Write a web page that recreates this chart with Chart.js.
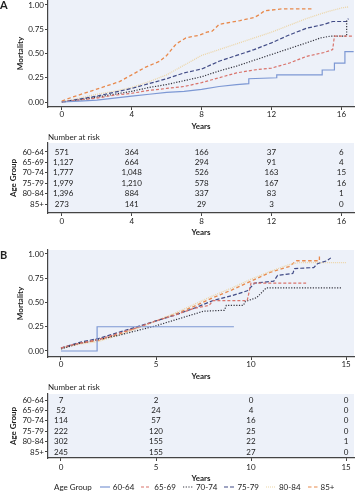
<!DOCTYPE html>
<html><head><meta charset="utf-8">
<script src="https://cdn.jsdelivr.net/npm/chart.js@4.4.1/dist/chart.umd.min.js"></script>
<style>
html,body{margin:0;padding:0;background:#fff;}
body{width:355px;height:500px;position:relative;overflow:hidden;font-family:Lato,"Open Sans",sans-serif;color:#222;}
canvas{position:absolute;left:0;}
.txt{position:absolute;font-size:8px;line-height:10px;white-space:nowrap;}
.panel{position:absolute;font-weight:bold;font-size:11px;line-height:12px;}
#legend{position:absolute;top:482px;left:54px;font-size:8px;line-height:10px;display:flex;align-items:center;white-space:nowrap;}
#legend svg{display:block;}
</style></head>
<body>
<canvas id="cA" width="355" height="131" style="top:0px"></canvas>
<canvas id="tA" width="355" height="107" style="top:131px"></canvas>
<canvas id="cB" width="355" height="133" style="top:248px"></canvas>
<canvas id="tB" width="355" height="102" style="top:381px"></canvas>
<div class="panel" style="left:0px;top:-1px">A</div>
<div class="panel" style="left:0px;top:249px">B</div>
<div class="txt" style="left:48px;top:132px">Number at risk</div>
<div class="txt" style="left:48px;top:382px">Number at risk</div>
<div id="legend"></div>
<script>
// ---------- data ----------
const groups = ['60-64','65-69','70-74','75-79','80-84','85+'];

// Panel A: cumulative mortality [years, mortality]
const A_6064 = [[0,0],[1,0.01],[2,0.02],[3,0.04],[4,0.06],[5,0.08],[6,0.10],[7,0.11],[8,0.13],[9,0.16],[10,0.18],[10.7,0.19],[10.7,0.24],[12.3,0.25],[12.3,0.28],[14.9,0.28],[14.9,0.33],[15.6,0.33],[15.6,0.40],[16.2,0.40],[16.2,0.52],[16.7,0.52]];
const A_6569 = [[0,0],[1,0.02],[2,0.04],[3,0.07],[4,0.09],[5,0.12],[6,0.14],[7,0.16],[8,0.20],[9,0.25],[10,0.30],[11,0.33],[12,0.35],[13,0.40],[14,0.47],[15,0.51],[15.5,0.54],[15.6,0.68],[16.7,0.68]];
const A_7074 = [[0,0],[1,0.02],[2,0.05],[3,0.08],[4,0.11],[5,0.15],[6,0.18],[7,0.22],[8,0.26],[9,0.32],[10,0.37],[11,0.43],[12,0.49],[13,0.55],[14,0.61],[14.8,0.66],[15.4,0.68],[16.3,0.68],[16.3,0.84]];
const A_7579 = [[0,0],[1,0.03],[2,0.06],[3,0.10],[4,0.14],[5,0.19],[6,0.24],[7,0.30],[8,0.34],[9,0.42],[10,0.48],[11,0.54],[12,0.61],[13,0.69],[14,0.76],[15,0.80],[15.5,0.83],[16.3,0.83],[16.4,0.86]];
const A_8084 = [[0,0],[1,0.04],[2,0.08],[3,0.11],[4,0.15],[5,0.21],[6,0.28],[7,0.38],[8,0.48],[9,0.54],[10,0.60],[11,0.66],[12,0.72],[13,0.79],[14,0.86],[15,0.92],[16,0.97],[16.4,0.98]];
const A_85 = [[0,0.01],[0.6,0.05],[1.8,0.12],[3.3,0.21],[4,0.28],[4.8,0.36],[5.6,0.42],[6.0,0.48],[6.55,0.60],[7.1,0.66],[7.9,0.69],[8.3,0.72],[8.6,0.73],[9.0,0.80],[10.2,0.84],[11.0,0.87],[11.3,0.90],[11.6,0.94],[12.6,0.96],[14.3,0.96]];
const A_xTicks = [0,4,8,12,16];
const A_yTicks = [0,0.25,0.5,0.75,1];
const A_riskTimes = [0,4,8,12,16];
const A_risk_6064 = [571,364,166,37,6];
const A_risk_6569 = [1127,664,294,91,4];
const A_risk_7074 = [1777,1048,526,163,15];
const A_risk_7579 = [1979,1210,578,167,16];
const A_risk_8084 = [1396,884,337,83,1];
const A_risk_85 = [273,141,29,3,0];

// Panel B
const B_6064 = [[0,0],[1.9,0],[1.9,0.25],[9.1,0.25]];
const B_6569 = [[0,0.03],[0.5,0.06],[1,0.08],[2,0.12],[3,0.18],[4,0.24],[5,0.31],[6,0.37],[7,0.44],[7.8,0.47],[8.0,0.52],[9.8,0.52],[10.0,0.70],[12.9,0.70]];
const B_7074 = [[0,0.02],[1,0.08],[2,0.12],[3,0.16],[4,0.21],[5,0.26],[6,0.32],[7,0.38],[7.5,0.41],[8.6,0.42],[8.7,0.47],[9.6,0.47],[9.7,0.51],[10.3,0.55],[10.8,0.65],[14.8,0.65]];
const B_7579 = [[0,0.03],[1,0.09],[2,0.13],[3,0.19],[4,0.25],[5,0.31],[6,0.37],[7,0.44],[8,0.52],[9,0.57],[9.8,0.62],[10.2,0.70],[11.2,0.72],[11.4,0.78],[12.2,0.80],[12.3,0.85],[13.3,0.86],[13.5,0.90],[14.0,0.93],[14.2,0.96]];
const B_8084 = [[0,0.03],[1,0.07],[2,0.10],[3,0.16],[4,0.23],[5,0.31],[6,0.39],[7,0.48],[8,0.57],[9,0.65],[10,0.74],[11,0.82],[12,0.89],[12.5,0.91],[15.0,0.91]];
const B_85 = [[0,0.03],[1,0.08],[2,0.11],[3,0.17],[4,0.24],[5,0.31],[6,0.38],[7,0.46],[8,0.55],[9,0.63],[10,0.72],[11,0.81],[12,0.87],[12.4,0.93],[13.6,0.93],[13.6,0.99]];
const B_xTicks = [0,5,10,15];
const B_yTicks = [0,0.25,0.5,0.75,1];
const B_riskTimes = [0,5,10,15];
const B_risk_6064 = [7,2,0,0];
const B_risk_6569 = [52,24,4,0];
const B_risk_7074 = [114,57,16,0];
const B_risk_7579 = [222,120,25,0];
const B_risk_8084 = [302,155,22,1];
const B_risk_85 = [245,155,27,0];

// ---------- styles ----------
const FONT = 'Lato, "Open Sans", sans-serif';
const TXT = '#222';
const AXIS = '#444';
const PLOT_BG = '#edf1f9';
const colors = ['#7d98d4','#d9736b','#34343f','#414b86','#ecd5a6','#e8894c'];
const dashes = [[],[3,2],[1.2,1.5],[4,2],[1,1],[3.5,2.5]];
const widths = [1.2,1.2,1.2,1.2,1.3,1.3];

const bgPlugin = {id:'bg', beforeDraw(chart){
  const {ctx, chartArea:a} = chart;
  ctx.save(); ctx.fillStyle = PLOT_BG;
  ctx.fillRect(a.left, a.top, a.right-a.left, a.bottom-a.top);
  ctx.restore();
}};

const riskText = {id:'riskText', afterDatasetsDraw(chart){
  const {ctx, chartArea:a} = chart;
  ctx.save();
  ctx.font = '8px ' + FONT; ctx.fillStyle = TXT;
  ctx.textBaseline = 'middle'; ctx.textAlign = 'left';
  chart.data.datasets.forEach((ds, di) => {
    chart.getDatasetMeta(di).data.forEach((el, k) => {
      const s = ds.data[k].n.toLocaleString('en-US');
      const w = ctx.measureText(s).width;
      const x = Math.max(el.x - w/2, a.left + 5);
      ctx.fillText(s, x, el.y);
    });
  });
  ctx.restore();
}};

function xAxis(min, max, ticks, h, tickPad, titlePadB){
  return {type:'linear', min, max,
    afterBuildTicks: s => { s.ticks = ticks.map(v => ({value:v})); },
    afterFit: s => { s.height = h; s.paddingLeft = 0; s.paddingRight = 0; },
    grid:{display:true, drawOnChartArea:false, drawTicks:true, tickLength:3, color:AXIS},
    border:{display:true, color:AXIS, width:1.2},
    ticks:{padding:tickPad, color:TXT, font:{size:8, family:FONT}, maxRotation:0, autoSkip:false},
    title:{display:true, text:'Years', color:TXT, font:{size:8, weight:'bold', family:FONT}, padding:{top:0, bottom:titlePadB}}
  };
}
function yAxis(opts){
  return Object.assign({type:'linear',
    afterFit: s => { s.width = 48; s.paddingTop = 0; s.paddingBottom = 0; },
    grid:{display:true, drawOnChartArea:false, drawTicks:true, tickLength:3, color:AXIS},
    border:{display:true, color:AXIS, width:1.2},
  }, opts);
}

function curveChart(id, series, xMin, xMax, xTicks, yMin, yMax, yTicks, padTop, xH){
  return new Chart(document.getElementById(id), {
    type:'line',
    data:{datasets: series.map((s,i) => ({
      label: groups[i], data: s.map(([x,y]) => ({x,y})),
      borderColor: colors[i], borderDash: dashes[i], borderWidth: widths[i],
      pointRadius:0, tension:0, fill:false
    }))},
    options:{responsive:false, animation:false, devicePixelRatio:1,
      layout:{padding:{top:padTop, right:1, left:0, bottom:0}, autoPadding:false},
      plugins:{legend:{display:false}, tooltip:{enabled:false}},
      scales:{
        x: xAxis(xMin, xMax, xTicks, xH, 0, 0),
        y: yAxis({min:yMin, max:yMax,
          afterBuildTicks: s => { s.ticks = yTicks.map(v => ({value:v})); },
          ticks:{padding:1, color:TXT, font:{size:8, family:FONT}, autoSkip:false, callback: v => Number(v).toFixed(2)},
          title:{display:true, text:'Mortality', color:TXT, font:{size:8, weight:'bold', family:FONT}, padding:{top:15.2, bottom:0}}
        })
      }
    },
    plugins:[bgPlugin]
  });
}

function tableChart(id, times, risks, xMin, xMax, xTicks, yMin, yMax, padTop, xH, tickPad, titlePadB){
  const pts = [];
  risks.forEach((row, gi) => row.forEach((n, j) => pts.push({x: times[j], y: gi, n})));
  return new Chart(document.getElementById(id), {
    type:'scatter',
    data:{datasets:[{data: pts, pointRadius:0, showLine:false}]},
    options:{responsive:false, animation:false, devicePixelRatio:1,
      layout:{padding:{top:padTop, right:1, left:0, bottom:0}, autoPadding:false},
      plugins:{legend:{display:false}, tooltip:{enabled:false}},
      scales:{
        x: xAxis(xMin, xMax, xTicks, xH, tickPad, titlePadB),
        y: yAxis({min:yMin, max:yMax, reverse:true,
          afterBuildTicks: s => { s.ticks = groups.map((g,i) => ({value:i})); },
          ticks:{padding:1, color:TXT, font:{size:8, family:FONT}, autoSkip:false, callback: v => groups[v] ?? ''},
          title:{display:true, text:'Age Group', color:TXT, font:{size:8, weight:'bold', family:FONT}, padding:{top:8.2, bottom:0}}
        })
      }
    },
    plugins:[bgPlugin, riskText]
  });
}

curveChart('cA', [A_6064,A_6569,A_7074,A_7579,A_8084,A_85], -0.79, 16.72, A_xTicks, -0.0515, 1.0515, A_yTicks, 0, 24);
tableChart('tA', A_riskTimes, [A_risk_6064,A_risk_6569,A_risk_7074,A_risk_7579,A_risk_8084,A_risk_85], -0.79, 16.72, A_xTicks, -0.865, 5.865, 12, 25, 1, 1);
curveChart('cB', [B_6064,B_6569,B_7074,B_7579,B_8084,B_85], -0.684, 15.42, B_xTicks, -0.062, 1.041, B_yTicks, 2, 24);
tableChart('tB', B_riskTimes, [B_risk_6064,B_risk_6569,B_risk_7074,B_risk_7579,B_risk_8084,B_risk_85], -0.684, 15.42, B_xTicks, -0.577, 5.577, 13, 25, 2, 0);

// legend
const lg = document.getElementById('legend');
let html = '<span>Age Group</span>';
groups.forEach((g,i) => {
  html += '<svg width="10" height="6" style="margin-left:' + (i===0?8:7) + 'px"><line x1="0" y1="3" x2="10" y2="3" stroke="' + colors[i] + '" stroke-width="1.2" stroke-dasharray="' + (dashes[i].length ? dashes[i].join(',') : 'none') + '"/></svg><span style="margin-left:3px">' + g + '</span>';
});
lg.innerHTML = html;
</script>
</body></html>
